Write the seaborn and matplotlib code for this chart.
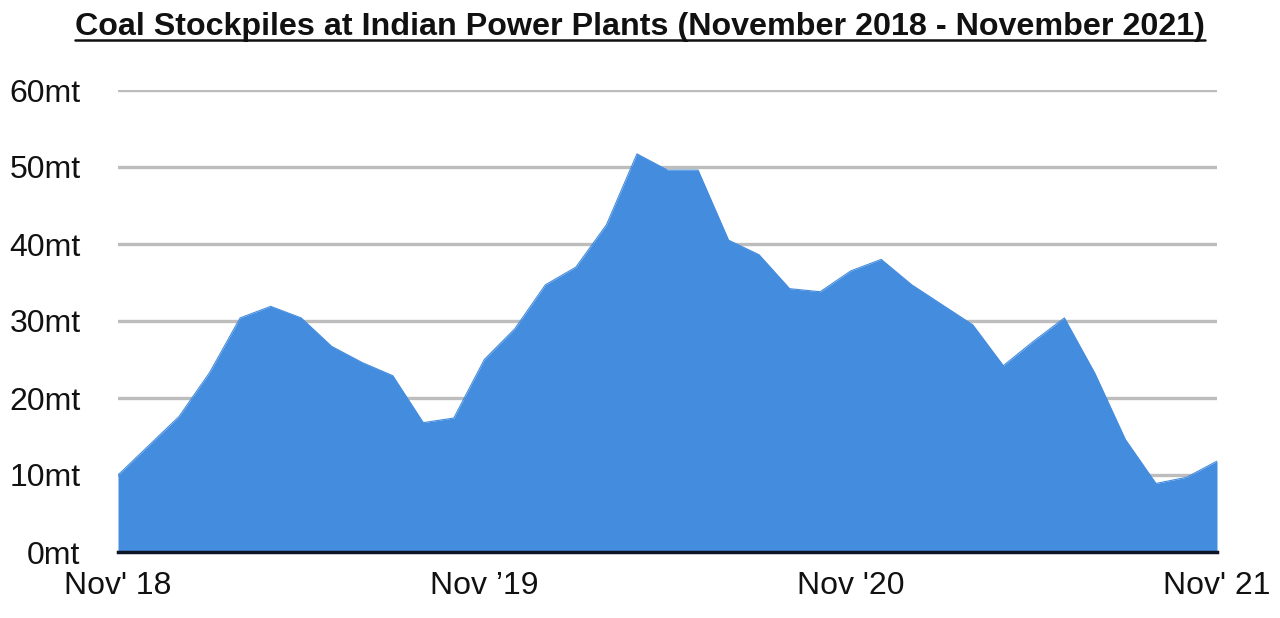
import numpy as np
import pandas as pd
import seaborn as sns
import matplotlib
matplotlib.use("Agg")
import matplotlib.pyplot as plt
from matplotlib.lines import Line2D

# ---- data ----
month_index = list(range(37))  # Nov 2018 .. Nov 2021, monthly
stock_mt = [10.0, 13.8, 17.6, 23.3, 30.4, 31.9, 30.4, 26.7, 24.6, 22.9,
            16.8, 17.4, 25.0, 29.0, 34.7, 37.0, 42.5, 51.7, 49.6, 49.6,
            40.5, 38.6, 34.2, 33.8, 36.5, 38.0, 34.7, 32.1, 29.5, 24.2,
            27.4, 30.4, 23.2, 14.6, 8.9, 9.7, 11.8]
xtick_pos = [0, 12, 24, 36]
xtick_labels = ["Nov' 18", "Nov \u201919", "Nov '20", "Nov' 21"]
ytick_vals = [0, 10, 20, 30, 40, 50, 60]
ytick_labels = [f"{v}mt" for v in ytick_vals]
title = "Coal Stockpiles at Indian Power Plants (November 2018 - November 2021)"

df = pd.DataFrame({"month": month_index, "stock": stock_mt})

sns.set_theme(style="white")
plt.rcParams["font.family"] = ["Liberation Sans", "DejaVu Sans"]

fig = plt.figure(figsize=(12.8, 6.18), dpi=100)
ax = fig.add_axes([118 / 1280, 1 - 552 / 618, (1217 - 118) / 1280, (552 - 90) / 618])

fill_color = "#438CDE"
sns.lineplot(data=df, x="month", y="stock", ax=ax, color=fill_color, linewidth=0.8)
ax.fill_between(df["month"], df["stock"], 0, color=fill_color, linewidth=0, zorder=2)

ax.set_xlim(0, 36)
ax.set_ylim(0, 60)
ax.set_yticks(ytick_vals)
ax.set_yticklabels(ytick_labels, fontsize=23, color="#111111")
ax.set_xticks(xtick_pos)
ax.set_xticklabels(xtick_labels, fontsize=23, color="#111111")
ax.tick_params(axis="y", length=0, pad=27)
ax.tick_params(axis="x", length=0, pad=14)
ax.set_xlabel("")
ax.set_ylabel("")

ax.yaxis.grid(True, color="#BDBDBD", linewidth=2.4, zorder=0)
ax.xaxis.grid(False)
ax.set_axisbelow(True)
for s in ["top", "right", "left"]:
    ax.spines[s].set_visible(False)
ax.spines["bottom"].set_color("#0D1526")
ax.spines["bottom"].set_linewidth(2.5)
ax.spines["bottom"].set_zorder(5)

t = fig.text(0.5, 1 - 35 / 618, title, ha="center", va="baseline",
             fontsize=23.2, fontweight="bold", color="#111111")
fig.canvas.draw()
bb = t.get_window_extent(fig.canvas.get_renderer())
uy = 618 - 40
fig.add_artist(Line2D([bb.x0 / 1280, bb.x1 / 1280], [uy / 618, uy / 618],
                      transform=fig.transFigure, color="#111111", linewidth=1.8))

fig.savefig("out.png", dpi=100)
